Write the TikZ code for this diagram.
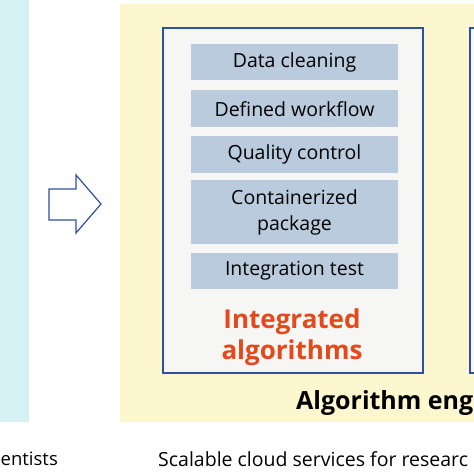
\documentclass[tikz,border=0pt]{standalone}
\usepackage{fontspec}
\setmainfont{Open Sans}
\usetikzlibrary{positioning}

\definecolor{stripcyan}{HTML}{D6F1F4}
\definecolor{panelyellow}{HTML}{FDF7CF}
\definecolor{boxfill}{HTML}{F6F6F4}
\definecolor{boxline}{HTML}{2F4FA0}
\definecolor{itemfill}{HTML}{B9CBDC}
\definecolor{algred}{HTML}{E4491C}

\begin{document}
\begin{tikzpicture}[x=1pt,y=-1pt,
    item/.style={fill=itemfill, minimum width=207pt, minimum height=36pt,
        inner sep=0pt, align=center, font=\fontsize{19.5}{26}\selectfont},
    node distance=8pt]
    \useasboundingbox (0,0) rectangle (474,474);

    % background panels
    \fill[stripcyan] (0,0) rectangle (29,422);
    \fill[panelyellow] (120,4) rectangle (474,422);
    \draw[boxline, fill=boxfill, line width=1.2pt] (163,28) rectangle (423,373);
    \draw[boxline, fill=boxfill, line width=1.2pt] (470,28) rectangle (480,373);

    % block arrow
    \draw[boxline, line width=1.2pt, line join=miter]
        (49,189) -- (76,189) -- (76,175) -- (101,204) -- (76,233)
        -- (76,220) -- (49,220) -- cycle;

    % algorithm steps
    \node[item] (clean) at (294.5,62) {Data cleaning};
    \node[item, minimum height=37pt] (flow) [below=10pt of clean] {Defined workflow};
    \node[item, minimum height=37pt] (qc) [below=8pt of flow] {Quality control};
    \node[item, minimum height=64pt] (pkg) [below=7pt of qc] {Containerized\\package};
    \node[item] (test) [below=8pt of pkg] {Integration test};

    \node[text=algred, font=\bfseries\fontsize{26}{31}\selectfont, align=center]
        (intalg) at (292,337) {Integrated\\algorithms};

    % captions
    \node[anchor=east, inner sep=0pt, font=\bfseries\fontsize{25}{30}\selectfont]
        (engine) at (473.5,403) {Algorithm eng};
    \node[anchor=west, inner sep=0pt, font=\fontsize{18.5}{22}\selectfont]
        (sci) at (0.5,459) {entists};
    \node[anchor=west, inner sep=0pt, font=\fontsize{19.5}{22}\selectfont]
        (cloud) at (158,459) {Scalable cloud services for researc};
\end{tikzpicture}
\end{document}
